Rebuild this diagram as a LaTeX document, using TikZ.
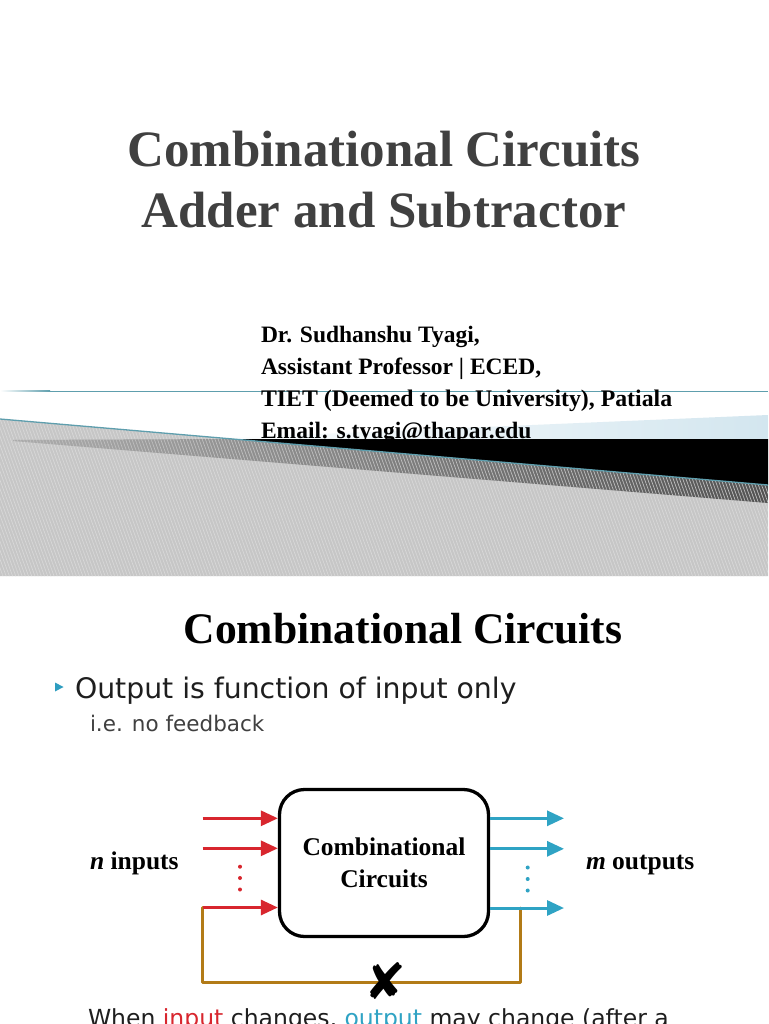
\documentclass[tikz,border=0pt]{standalone}
\usepackage{fontspec}
\setmainfont{Liberation Serif}
\newfontfamily\bodysans{DejaVu Sans}
\usetikzlibrary{arrows.meta,patterns.meta}
\definecolor{ttlgray}{HTML}{404040}
\definecolor{tealline}{HTML}{5E9EAD}
\definecolor{lblue}{HTML}{D3E6EF}
\definecolor{hatchbase}{HTML}{C6C6C6}
\definecolor{hatchline}{HTML}{D8D8D8}
\definecolor{inred}{HTML}{D8262E}
\definecolor{outblue}{HTML}{2FA3C4}
\definecolor{fbbrown}{HTML}{B27B17}
\definecolor{bulletc}{HTML}{2E9DC0}
\definecolor{bodytxt}{HTML}{1E1E1E}
\definecolor{subtxt}{HTML}{404040}
\tikzset{
  txt/.style={inner sep=0pt, outer sep=0pt},
  hatch/.style={postaction={pattern={Lines[angle=110,distance=3pt,line width=0.7pt]}, pattern color=#1}},
  inarrow/.style={draw=inred, line width=3pt, -{Triangle[length=17pt,width=15pt]}},
  outarrow/.style={draw=outblue, line width=3pt, -{Triangle[length=17pt,width=15pt]}},
  fbline/.style={draw=fbbrown, line width=3pt, line cap=round, line join=round},
  ccbox/.style={draw=black, line width=3.3pt, rounded corners=25pt, minimum width=209pt, minimum height=147pt, inner sep=0pt},
  dotred/.style={circle, fill=inred, inner sep=0pt, minimum size=4pt},
  dotblue/.style={circle, fill=outblue, inner sep=0pt, minimum size=4pt},
}
\begin{document}
\begin{tikzpicture}[x=1pt,y=-1pt]
\useasboundingbox (0,0) rectangle (768,1024);
\fill[white] (0,0) rectangle (768,1024);

% ---------- slide 1 decoration ----------
\shade[left color=white, right color=lblue] (190,439.5) -- (768,415) -- (768,439.5) -- cycle;
\path[fill=hatchbase, hatch=hatchline] (0,419) -- (768,485) -- (768,576) -- (0,576) -- cycle;
\path[left color=gray!65, right color=black!68, hatch=gray!50] (13,440) -- (233,439) -- (768,485) -- (768,503) -- (13,441) -- cycle;
\fill[black] (232.8,439) -- (768,439) -- (768,485) -- cycle;
\draw[tealline, line width=1.3pt] (0,419) -- (768,485);
\shade[left color=white, right color=tealline] (0,390.6) rectangle (50,391.8);
\fill[tealline] (50,390.6) rectangle (768,391.8);

% ---------- slide 1 text ----------
\node[txt, anchor=base, text=ttlgray, font=\fontsize{51}{60}\selectfont\bfseries] (title1) at (384,167) {Combinational Circuits};
\node[txt, anchor=base, text=ttlgray, font=\fontsize{51}{60}\selectfont\bfseries] (title2) at (384,228) {Adder and Subtractor};
\node[txt, anchor=base west, font=\fontsize{23.5}{28}\selectfont\bfseries] (auth1) at (261,342) {Dr. Sudhanshu Tyagi,};
\node[txt, anchor=base west, font=\fontsize{23.5}{28}\selectfont\bfseries] (auth2) at (261,374) {Assistant Professor | ECED,};
\node[txt, anchor=base west, font=\fontsize{23.8}{28}\selectfont\bfseries] (auth3) at (261,406) {TIET (Deemed to be University), Patiala};
\node[txt, anchor=base west, font=\fontsize{23.5}{28}\selectfont\bfseries] (auth4) at (261,438) {Email: s.tyagi@thapar.edu};

% ---------- slide 2 ----------
\node[txt, anchor=base, font=\fontsize{43.6}{52}\selectfont\bfseries] (title3) at (403,643) {Combinational Circuits};
\fill[bulletc] (55,682.5) -- (63.5,687) -- (55,691.5) -- cycle;
\node[txt, anchor=base west, text=bodytxt, font=\fontsize{28.3}{34}\selectfont\bodysans] (pt1) at (75,698) {Output is function of input only};
\node[txt, anchor=base west, text=subtxt, font=\fontsize{21.5}{26}\selectfont\bodysans] (pt2) at (90,731) {i.e. no feedback};

\node[ccbox] (box) at (384,863) {};
\node[txt, anchor=base, font=\fontsize{25.5}{32}\selectfont\bfseries] (boxl1) at (384,855) {Combinational};
\node[txt, anchor=base, font=\fontsize{25.5}{32}\selectfont\bfseries] (boxl2) at (384,887) {Circuits};

\coordinate (in1) at (202.7,818.3);
\coordinate (in2) at (202.7,848.3);
\coordinate (in3) at (202.7,907.5);
\coordinate (out1) at (564,818.3);
\coordinate (out2) at (564,848.8);
\coordinate (out3) at (564,908);
\coordinate (fbr) at (520,908);
\coordinate (fbbl) at (202.7,982);
\coordinate (fbbr) at (520,982);

\draw[fbline] (in3) -- (fbbl) -- (fbbr) -- (fbr);
\draw[inarrow] (in1) -- (in1 -| box.west);
\draw[inarrow] (in2) -- (in2 -| box.west);
\draw[inarrow] (in3) -- (in3 -| box.west);
\draw[outarrow] (out1 -| box.east) -- (out1);
\draw[outarrow] (out2 -| box.east) -- (out2);
\draw[outarrow] (out3 -| box.east) -- (out3);

\node[dotred] (rd1) at (240,866.7) {};
\node[dotred] (rd2) at (240,878) {};
\node[dotred] (rd3) at (240,889.5) {};
\node[dotblue] (bd1) at (527.7,867.5) {};
\node[dotblue] (bd2) at (527.7,879) {};
\node[dotblue] (bd3) at (527.7,890.5) {};

\node[txt, anchor=base west, font=\fontsize{25.5}{30}\selectfont\bfseries] (nin) at (90,869) {\textit{n} inputs};
\node[txt, anchor=base west, font=\fontsize{25.5}{30}\selectfont\bfseries] (mout) at (586,869) {\textit{m} outputs};

\node[txt, font=\fontsize{50}{50}\selectfont\bodysans] (cut) at (385.5,981) {✘};

\node[txt, anchor=base west, text=bodytxt, font=\fontsize{23.5}{28}\selectfont\bodysans] (note) at (88,1026) {When \textcolor{inred}{input} changes, \textcolor{outblue}{output} may change (after a};
\end{tikzpicture}
\end{document}
